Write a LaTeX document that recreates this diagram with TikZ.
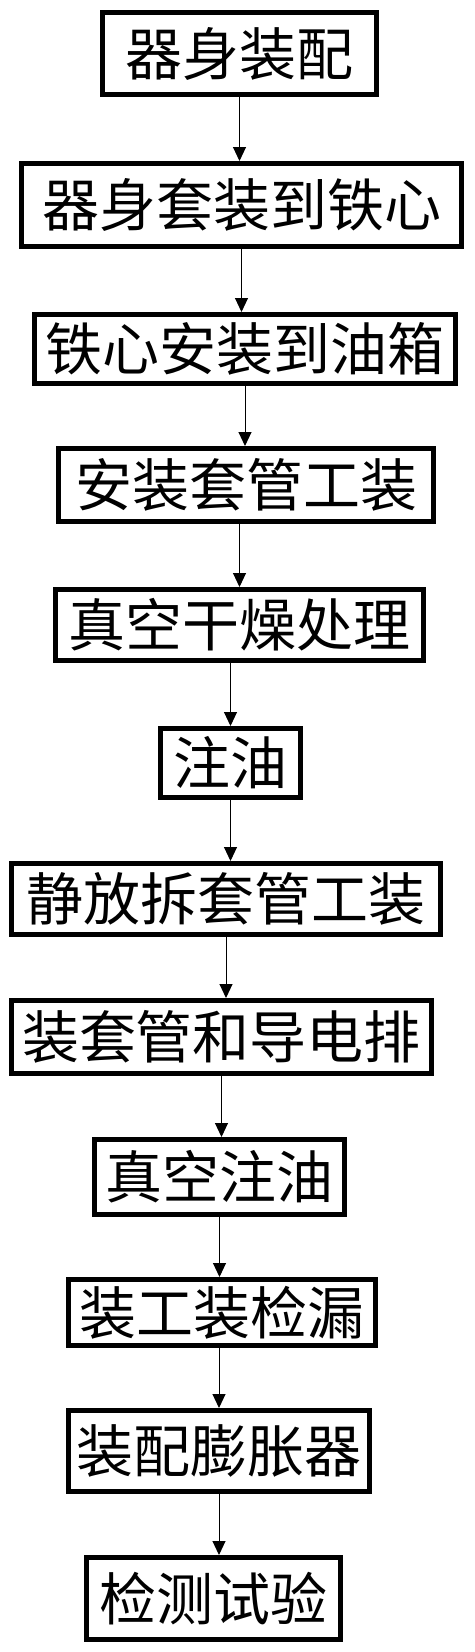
\documentclass[tikz,border=0pt]{standalone}
\usepackage{fontspec}
\newfontfamily\cjk{Noto Sans CJK SC}
\usetikzlibrary{arrows.meta}
\begin{document}
\begin{tikzpicture}[
        x=1pt, y=-1pt,
        stepbox/.style={draw, line width=5pt, inner sep=0pt, font=\cjk\fontsize{57}{57}\selectfont},
        flow/.style={-{Triangle[width=13pt,length=14pt]}, line width=1pt},
    ]
    \useasboundingbox (0,0) rectangle (474,1652);
    \node[stepbox, minimum width=274pt, minimum height=82pt] (a) at (239.5,53.5) {器身装配};
    \node[stepbox, minimum width=440pt, minimum height=83pt] (b) at (241.5,205) {器身套装到铁心};
    \node[stepbox, minimum width=421pt, minimum height=69pt] (c) at (245,349) {铁心安装到油箱};
    \node[stepbox, minimum width=375pt, minimum height=73pt] (d) at (246,485) {安装套管工装};
    \node[stepbox, minimum width=368pt, minimum height=71pt] (e) at (239.5,625) {真空干燥处理};
    \node[stepbox, minimum width=140pt, minimum height=69pt] (f) at (230.5,763) {注油};
    \node[stepbox, minimum width=429pt, minimum height=71pt] (g) at (226,899) {静放拆套管工装};
    \node[stepbox, minimum width=420pt, minimum height=73pt] (h) at (221.5,1037) {装套管和导电排};
    \node[stepbox, minimum width=250pt, minimum height=75pt] (i) at (219.5,1177) {真空注油};
    \node[stepbox, minimum width=307pt, minimum height=66pt] (j) at (222,1312.5) {装工装检漏};
    \node[stepbox, minimum width=301pt, minimum height=81pt] (k) at (219,1451) {装配膨胀器};
    \node[stepbox, minimum width=254pt, minimum height=82pt] (l) at (213.5,1598.5) {检测试验};
    \draw[flow] (a.south) -- (a.south |- b.north);
    \draw[flow] (b.south) -- (b.south |- c.north);
    \draw[flow] (c.south) -- (c.south |- d.north);
    \draw[flow] (e.north |- d.south) -- (e.north);
    \draw[flow] (f.north |- e.south) -- (f.north);
    \draw[flow] (f.south) -- (f.south |- g.north);
    \draw[flow] (g.south) -- (g.south |- h.north);
    \draw[flow] (h.south) -- (h.south |- i.north);
    \draw[flow] (i.south) -- (i.south |- j.north);
    \draw[flow] (k.north |- j.south) -- (k.north);
    \draw[flow] (k.south) -- (k.south |- l.north);
\end{tikzpicture}
\end{document}
